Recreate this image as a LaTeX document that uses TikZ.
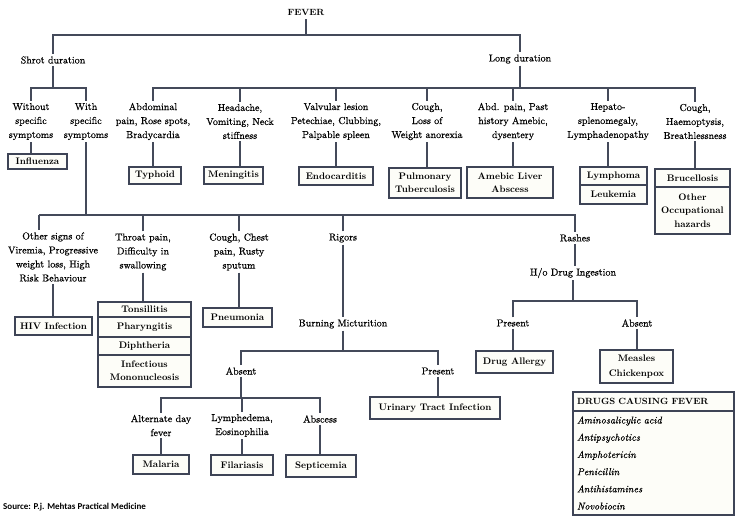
\documentclass[tikz,border=0pt]{standalone}
\usepackage{fontspec}
\newfontfamily\srcfont{Carlito}
\newfontfamily\lblfont{Latin Modern Roman}[FakeBold=0.4]
\newfontfamily\itlfont{Latin Modern Roman}[FakeBold=0.4]
\definecolor{linec}{HTML}{444A5A}
\definecolor{boxc}{HTML}{3E4456}
\definecolor{boxfill}{HTML}{FDFDF8}
\begin{document}
\begin{tikzpicture}[x=1pt,y=-1pt,
 conn/.style={draw=linec, line width=1.15pt},
 lbl/.style={font=\lblfont\fontsize{10}{14}\selectfont, align=center, inner sep=2pt, text=black},
 bx/.style={draw=boxc, line width=1.3pt, fill=boxfill, font=\fontsize{9.5}{13}\selectfont\bfseries, inner sep=0pt, align=center},
 ]
\useasboundingbox[fill=white] (0,0) rectangle (736,523);

% ---- labels ----
\node[lbl, font=\fontsize{9}{11}\selectfont\bfseries, inner sep=4pt] (fever) at (306,12) {FEVER};
\node[lbl] (shrot) at (53,60) {Shrot duration};
\node[lbl] (long) at (520,59) {Long duration};
\node[lbl] (without) at (31,121.5) {Without\\specific\\symptoms};
\node[lbl] (with) at (86,121.5) {With\\specific\\symptoms};
\node[lbl] (abd) at (153,121.5) {Abdominal\\pain, Rose spots,\\Bradycardia};
\node[lbl] (head) at (240,121.5) {Headache,\\Vomiting, Neck\\stiffness};
\node[lbl] (valv) at (336,121.5) {Valvular lesion\\Petechiae, Clubbing,\\Palpable spleen};
\node[lbl] (cougha) at (427,121.5) {Cough,\\Loss of\\Weight anorexia};
\node[lbl] (abdpast) at (513,121.5) {Abd. pain, Past\\history Amebic,\\dysentery};
\node[lbl] (hepato) at (608,121.5) {Hepato-\\splenomegaly,\\Lymphadenopathy};
\node[lbl] (coughb) at (695,121.5) {Cough,\\Haemoptysis,\\Breathlessness};

\node[lbl] (other) at (53,257) {Other signs of\\Viremia, Progressive\\weight loss, High\\Risk Behaviour};
\node[lbl] (throat) at (143,252) {Throat pain,\\Difficulty in\\swallowing};
\node[lbl] (coughc) at (239,252) {Cough, Chest\\pain, Rusty\\sputum};
\node[lbl] (rigors) at (343,238) {Rigors};
\node[lbl] (rashes) at (575,238) {Rashes};
\node[lbl] (hodrug) at (573,273) {H/o Drug Ingestion};
\node[lbl] (burning) at (343,324) {Burning Micturition};
\node[lbl] (absenta) at (241,371) {Absent};
\node[lbl] (presenta) at (438,371) {Present};
\node[lbl] (alt) at (161,425.5) {Alternate day\\fever};
\node[lbl] (lymph) at (242,425.5) {Lymphedema,\\Eosinophilia};
\node[lbl] (abscess) at (320,419) {Abscess};
\node[lbl] (presentb) at (513,323) {Present};
\node[lbl] (absentb) at (637,323) {Absent};

% ---- boxes ----
\node[bx, minimum width=59pt, minimum height=15pt] (influenza) at (37.5,161.5) {Influenza};
\node[bx, minimum width=52pt, minimum height=17pt] (typhoid) at (155,175.5) {Typhoid};
\node[bx, minimum width=59pt, minimum height=17pt] (meningitis) at (233.5,175.5) {Meningitis};
\node[bx, minimum width=74pt, minimum height=18pt] (endocarditis) at (336,176) {Endocarditis};
\node[bx, minimum width=72pt, minimum height=30pt] (pulmonary) at (425,183) {Pulmonary\\Tuberculosis};
\node[bx, minimum width=86pt, minimum height=31pt] (amebic) at (510,182.5) {Amebic Liver\\Abscess};
\node[bx, minimum width=67pt, minimum height=18pt] (lymphoma) at (613.5,176) {Lymphoma};
\node[bx, minimum width=67pt, minimum height=19pt] (leukemia) at (613.5,194.5) {Leukemia};
\node[bx, minimum width=75pt, minimum height=18pt] (brucellosis) at (692.5,178) {Brucellosis};
\node[bx, minimum width=75pt, minimum height=47pt, font=\fontsize{9.5}{13.5}\selectfont\bfseries] (occup) at (692.5,210.5) {Other\\Occupational\\hazards};

\node[bx, minimum width=77pt, minimum height=18pt] (hiv) at (53.5,326) {HIV Infection};
\node[bx, minimum width=93pt, minimum height=15pt] (tons) at (144.5,309.5) {Tonsillitis};
\node[bx, minimum width=93pt, minimum height=20pt] (phar) at (144.5,327) {Pharyngitis};
\node[bx, minimum width=93pt, minimum height=18pt] (diph) at (144.5,346) {Diphtheria};
\node[bx, minimum width=93pt, minimum height=32pt] (mono) at (144.5,371) {Infectious\\Mononucleosis};
\node[bx, minimum width=69pt, minimum height=19pt] (pneu) at (237.5,317.5) {Pneumonia};
\node[bx, minimum width=56pt, minimum height=19pt] (malaria) at (161,464.5) {Malaria};
\node[bx, minimum width=62pt, minimum height=20pt] (filariasis) at (242,465) {Filariasis};
\node[bx, minimum width=70pt, minimum height=22pt] (septicemia) at (321,466) {Septicemia};
\node[bx, minimum width=130pt, minimum height=22pt] (uti) at (435,408) {Urinary Tract Infection};
\node[bx, minimum width=77pt, minimum height=22pt] (drugallergy) at (514.5,362) {Drug Allergy};
\node[bx, minimum width=73pt, minimum height=33pt, font=\fontsize{9.5}{15}\selectfont\bfseries] (measles) at (636.5,366.5) {Measles\\Chickenpox};

\node[draw=boxc, line width=1.3pt, fill=boxfill, minimum width=161pt, minimum height=104pt, text width=153pt, align=left, inner sep=4pt, font=\itlfont\fontsize{10}{17.2}\selectfont\itshape] (drugslist) at (653.5,463) {Aminosalicylic acid\\Antipsychotics\\Amphotericin\\Penicillin\\Antihistamines\\Novobiocin};
\node[bx, minimum width=161pt, minimum height=19pt, text width=153pt, align=left, inner sep=4pt, font=\fontsize{9}{11}\selectfont\bfseries] (drugshead) at (653.5,401.5) {DRUGS CAUSING FEVER};

\node[anchor=west, inner sep=0pt, font=\srcfont\fontsize{9}{11}\selectfont\bfseries] (src) at (3,507) {Source: P.j. Mehtas Practical Medicine};

% ---- connectors ----
\coordinate (b1) at (0,35);
\coordinate (b2) at (0,88);
\coordinate (d1) at (39,215);
\coordinate (b5) at (0,351);
\coordinate (b6) at (0,398);
\coordinate (b7) at (0,301);

\draw[conn] (fever.south) -- (fever.south |- b1);
\draw[conn] (shrot.north) |- (long.north |- b1) -- (long.north);

\draw[conn] (shrot.south) -- (shrot.south |- b2);
\draw[conn] (without.north) |- (with.north |- b2) -- (with.north);
\draw[conn] (without.south) -- (without.south |- influenza.north);
\draw[conn] (with.south) -- (with.south |- d1);

\draw[conn] (long.south) -- (long.south |- b2);
\draw[conn] (abd.north) |- (coughb.north |- b2) -- (coughb.north);
\foreach \n in {head,valv,cougha,abdpast,hepato}
  \draw[conn] (\n.north) -- (\n.north |- b2);
\draw[conn] (abd.south) -- (abd.south |- typhoid.north);
\draw[conn] (head.south) -- (head.south |- meningitis.north);
\draw[conn] (valv.south) -- (valv.south |- endocarditis.north);
\draw[conn] (cougha.south) -- (cougha.south |- pulmonary.north);
\draw[conn] (abdpast.south) -- (abdpast.south |- amebic.north);
\draw[conn] (hepato.south) -- (hepato.south |- lymphoma.north);
\draw[conn] (coughb.south) -- (coughb.south |- brucellosis.north);

\draw[conn] (d1) -- (d1 |- other.north);
\draw[conn] (d1) -| (rashes.north);
\foreach \n in {throat,coughc,rigors}
  \draw[conn] (\n.north) -- (\n.north |- d1);
\draw[conn] (other.south) -- (other.south |- hiv.north);
\draw[conn] (throat.south) -- (throat.south |- tons.north);
\draw[conn] (coughc.south) -- (coughc.south |- pneu.north);
\draw[conn] (rigors.south) -- (rigors.south |- burning.north);

\draw[conn] (burning.south) -- (burning.south |- b5);
\draw[conn] (absenta.north) |- (presenta.north |- b5) -- (presenta.north);
\draw[conn] (presenta.south) -- (presenta.south |- uti.north);
\draw[conn] (absenta.south) -- (absenta.south |- b6);
\draw[conn] (alt.north) |- (abscess.north |- b6) -- (abscess.north);
\draw[conn] (lymph.north) -- (lymph.north |- b6);
\draw[conn] (alt.south) -- (alt.south |- malaria.north);
\draw[conn] (lymph.south) -- (lymph.south |- filariasis.north);
\draw[conn] (abscess.south) -- (abscess.south |- septicemia.north);

\draw[conn] (rashes.south) -- (rashes.south |- hodrug.north);
\draw[conn] (hodrug.south) -- (hodrug.south |- b7);
\draw[conn] (presentb.north) |- (absentb.north |- b7) -- (absentb.north);
\draw[conn] (presentb.south) -- (presentb.south |- drugallergy.north);
\draw[conn] (absentb.south) -- (absentb.south |- measles.north);
\end{tikzpicture}
\end{document}
